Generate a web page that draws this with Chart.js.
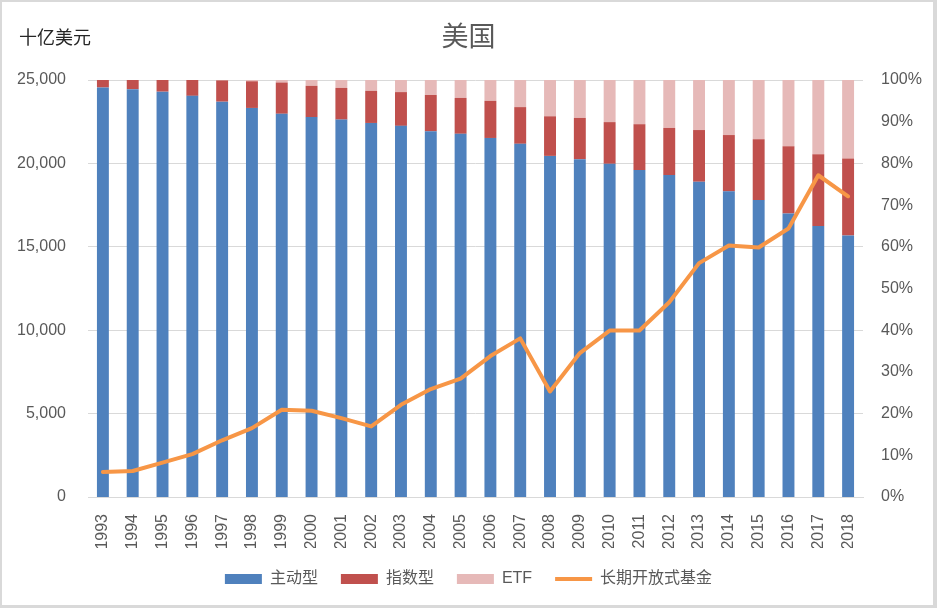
<!DOCTYPE html>
<html>
<head>
<meta charset="utf-8">
<script src="https://cdn.jsdelivr.net/npm/chart.js@4"></script>
<style>
  html, body { margin: 0; padding: 0; background: #fff; }
  #wrap { width: 937px; height: 608px; position: relative; }
</style>
</head>
<body>
<div id="wrap"><canvas id="usChart" width="937" height="608"></canvas></div>
<script>
const years = ['1993', '1994', '1995', '1996', '1997', '1998', '1999', '2000', '2001', '2002', '2003', '2004', '2005',
               '2006', '2007', '2008', '2009', '2010', '2011', '2012', '2013', '2014', '2015', '2016', '2017', '2018'];

// share of each fund type, % (right axis)
const activeShare = [98.2, 97.8, 97.2, 96.2, 94.8, 93.3, 91.9, 91.1, 90.5, 89.7, 89.0, 87.7, 87.1,
                     86.1, 84.7, 81.8, 81.0, 79.9, 78.4, 77.2, 75.6, 73.3, 71.2, 68.0, 65.0, 62.7];
const indexShare = [1.8, 2.2, 2.8, 3.8, 5.1, 6.4, 7.5, 7.5, 7.6, 7.7, 8.1, 8.7, 8.6,
                    8.9, 8.8, 9.5, 9.9, 10.0, 11.0, 11.3, 12.4, 13.5, 14.6, 16.1, 17.2, 18.5];
const etfShare = [0, 0, 0, 0, 0.1, 0.3, 0.6, 1.4, 1.9, 2.6, 2.9, 3.6, 4.3,
                  5.0, 6.5, 8.7, 9.1, 10.1, 10.6, 11.5, 12.0, 13.2, 14.2, 15.9, 17.8, 18.8];

// long-term open-end fund assets, billion USD (left axis)
const longTermAssets = [1500, 1560, 2060, 2570, 3400, 4130, 5230, 5170, 4730, 4230, 5530, 6470, 7100,
                        8450, 9510, 6330, 8630, 9980, 9980, 11680, 14020, 15080, 14960, 16100, 19290, 18030];

const grey = '#595959';
const fontStack = '"Liberation Sans", "Noto Sans CJK SC", sans-serif';

// frame + unit label
const extras = {
    id: 'extras',
    beforeDraw(chart) {
        const c = chart.ctx;
        c.save();
        c.fillStyle = '#fff';
        c.fillRect(0, 0, chart.width, chart.height);
        c.restore();
    },
    afterDraw(chart) {
        const c = chart.ctx;
        c.save();
        c.fillStyle = '#d9d9d9';
        c.fillRect(0, 0, 937, 2);
        c.fillRect(0, 0, 2, 608);
        c.fillRect(933, 0, 4, 608);
        c.fillRect(0, 605, 937, 3);
        c.fillStyle = '#262626';
        c.font = '18px "Noto Sans CJK SC", sans-serif';
        c.textBaseline = 'middle';
        c.fillText('十亿美元', 19, 37);
        c.restore();
    }
};

const ctx = document.getElementById('usChart');

new Chart(ctx, {
    type: 'bar',
    data: {
        labels: years,
        datasets: [{
            label: '主动型',
            data: activeShare,
            backgroundColor: '#4F81BD',
            yAxisID: 'y1',
            order: 1
        }, {
            label: '指数型',
            data: indexShare,
            backgroundColor: '#C0504D',
            yAxisID: 'y1',
            order: 1
        }, {
            label: 'ETF',
            data: etfShare,
            backgroundColor: '#E6B9B8',
            yAxisID: 'y1',
            order: 1
        }, {
            type: 'line',
            label: '长期开放式基金',
            data: longTermAssets,
            borderColor: '#F79646',
            backgroundColor: '#F79646',
            borderWidth: 4,
            pointRadius: 0,
            tension: 0,
            borderJoinStyle: 'round',
            borderCapStyle: 'round',
            fill: false,
            yAxisID: 'y',
            order: 0
        }]
    },
    options: {
        responsive: false,
        animation: false,
        datasets: {
            bar: { categoryPercentage: 1, barPercentage: 0.4 }
        },
        layout: {
            padding: { left: 0, right: 0, top: 0, bottom: 11 }
        },
        scales: {
            x: {
                stacked: true,
                grid: { display: false },
                border: { display: true, color: '#d9d9d9', width: 1 },
                ticks: {
                    minRotation: 90,
                    maxRotation: 90,
                    padding: 9,
                    color: grey,
                    font: { family: fontStack, size: 16 }
                },
                afterFit(scale) { scale.height = 51; }
            },
            y: {
                position: 'left',
                min: 0,
                max: 25000,
                ticks: {
                    stepSize: 5000,
                    padding: 22,
                    color: grey,
                    font: { family: fontStack, size: 16 }
                },
                grid: { color: '#d9d9d9', lineWidth: 1, drawTicks: false },
                border: { display: false },
                afterFit(scale) { scale.width = 88; }
            },
            y1: {
                position: 'right',
                stacked: true,
                min: 0,
                max: 100,
                ticks: {
                    stepSize: 10,
                    padding: 18,
                    color: grey,
                    font: { family: fontStack, size: 16 },
                    callback: (v) => v + '%'
                },
                grid: { display: false, drawOnChartArea: false, drawTicks: false },
                border: { display: false },
                afterFit(scale) { scale.width = 74; }
            }
        },
        plugins: {
            title: {
                display: true,
                text: '美国',
                color: grey,
                font: { family: '"Noto Sans CJK SC", sans-serif', size: 27, weight: 'normal' },
                padding: { top: 20, bottom: 27.6 }
            },
            legend: {
                position: 'bottom',
                labels: {
                    usePointStyle: true,
                    pointStyleWidth: 37,
                    boxHeight: 10,
                    padding: 23,
                    color: grey,
                    font: { family: fontStack, size: 16 },
                    generateLabels(chart) {
                        const items = Chart.defaults.plugins.legend.labels.generateLabels(chart);
                        items.sort((a, b) => a.datasetIndex - b.datasetIndex);
                        items.forEach(it => {
                            it.pointStyle = it.datasetIndex === 3 ? 'line' : 'rect';
                        });
                        return items;
                    }
                }
            },
            tooltip: { enabled: false }
        }
    },
    plugins: [extras]
});
</script>
</body>
</html>
